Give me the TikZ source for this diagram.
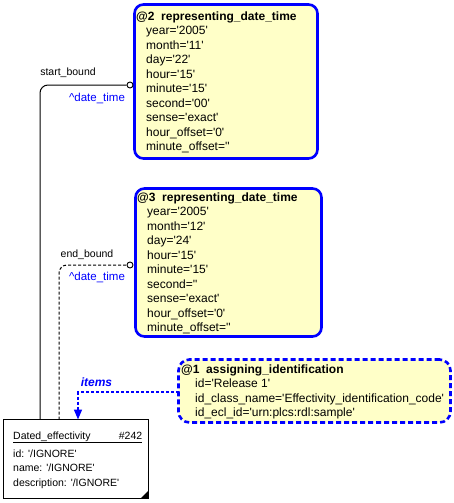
\documentclass[tikz,border=0pt]{standalone}
\usepackage{fontspec}
\setmainfont{Liberation Sans}[Ligatures=TeXOff]
\usetikzlibrary{arrows.meta}

\definecolor{notefill}{RGB}{255,255,200}
\definecolor{linkblue}{RGB}{0,0,255}

\tikzset{
    instbox/.style={draw=linkblue, line width=2.6pt, rounded corners=9pt,
        fill=notefill, outer sep=0pt, anchor=north west},
    entitybox/.style={draw=black, line width=0.9pt, fill=white,
        outer sep=0pt, anchor=north west},
    boxtext/.style={anchor=north west, inner sep=0pt, align=left,
        font=\fontsize{12}{14.5}\selectfont},
    entitytext/.style={anchor=north west, inner sep=0pt, align=left,
        font=\fontsize{10.5}{14.5}\selectfont},
    rolelabel/.style={inner sep=0pt, font=\fontsize{10.5}{12}\selectfont},
    typelabel/.style={inner sep=0pt, text=linkblue, font=\fontsize{11.5}{12}\selectfont},
    endcirc/.style={circle, draw=black, fill=white, line width=0.9pt,
        inner sep=0pt, minimum size=6pt},
}

\newcommand{\attr}{\hspace*{10pt}}

\begin{document}
\begin{tikzpicture}[x=1pt, y=-1pt]
    \useasboundingbox (0,0) rectangle (454,503);

    % @2 representing_date_time
    \node[instbox, minimum width=183pt, minimum height=154pt] (rdt2) at (134.5,4.5) {};
    \node[boxtext] (rdt2txt) at (136,9.85) {\strut\textbf{@2\ \ representing\_date\_time}\\
        \attr year='2005'\\ \attr month='11'\\ \attr day='22'\\ \attr hour='15'\\
        \attr minute='15'\\ \attr second='00'\\ \attr sense='exact'\\
        \attr hour\_offset='0'\\ \attr minute\_offset=''};

    % @3 representing_date_time
    \node[instbox, minimum width=186pt, minimum height=148pt] (rdt3) at (135.5,188.5) {};
    \node[boxtext] (rdt3txt) at (137,190.85) {\strut\textbf{@3\ \ representing\_date\_time}\\
        \attr year='2005'\\ \attr month='12'\\ \attr day='24'\\ \attr hour='15'\\
        \attr minute='15'\\ \attr second=''\\ \attr sense='exact'\\
        \attr hour\_offset='0'\\ \attr minute\_offset=''};

    % @1 assigning_identification
    \node[instbox, dash pattern=on 5pt off 3pt, rounded corners=11pt,
        minimum width=272pt, minimum height=63pt] (aid1) at (178.5,359.5) {};
    \node[boxtext] (aid1txt) at (181,362.85) {\strut\textbf{@1\ \ assigning\_identification}\\
        \hspace*{14pt}id='Release 1'\\
        \hspace*{14pt}id\_class\_name='Effectivity\_identification\_code'\\
        \hspace*{14pt}id\_ecl\_id='urn:plcs:rdl:sample'};

    % Dated_effectivity #242
    \node[entitybox, minimum width=145pt, minimum height=79pt] (dated) at (3.5,419.5) {};
    \node[entitytext, text width=129pt] (datedhead) at (13,428.85)
        {\strut Dated\_effectivity\hfill\#242};
    \draw[line width=0.9pt] (13,442) -- (142,442);
    \node[entitytext] (datedtxt) at (13,446.85) {\strut id: '/IGNORE'\\
        name: '/IGNORE'\\ description: '/IGNORE'};
    \fill (141,498) -- (148,498) -- (148,491) -- cycle;

    % start_bound
    \node[endcirc] (sbend) at (130,85) {};
    \draw[line width=1pt, rounded corners=8pt] (dated.north -| 40,0) -- (40,85) -- (sbend.west);
    \node[rolelabel] (sblabel) at (68,73) {start\_bound};
    \node[typelabel] (sbtype) at (97,98) {\textasciicircum date\_time};

    % end_bound
    \node[endcirc] (ebend) at (130,265) {};
    \draw[line width=1pt, dash pattern=on 3pt off 2pt, rounded corners=8pt]
        (dated.north -| 59,0) -- (59,265) -- (ebend.west);
    \node[rolelabel] (eblabel) at (87,255) {end\_bound};
    \node[typelabel] (ebtype) at (97,277) {\textasciicircum date\_time};

    % items
    \draw[linkblue, line width=1.6pt, dash pattern=on 3pt off 2pt, -{Triangle[length=10pt, width=8pt]}]
        (aid1.west |- 0,392) -- (78,392) -- (dated.north -| 78,0);
    \node[inner sep=0pt, text=linkblue, font=\fontsize{12}{12}\selectfont\bfseries\itshape]
        (itemslabel) at (96.5,382) {items};
\end{tikzpicture}
\end{document}
